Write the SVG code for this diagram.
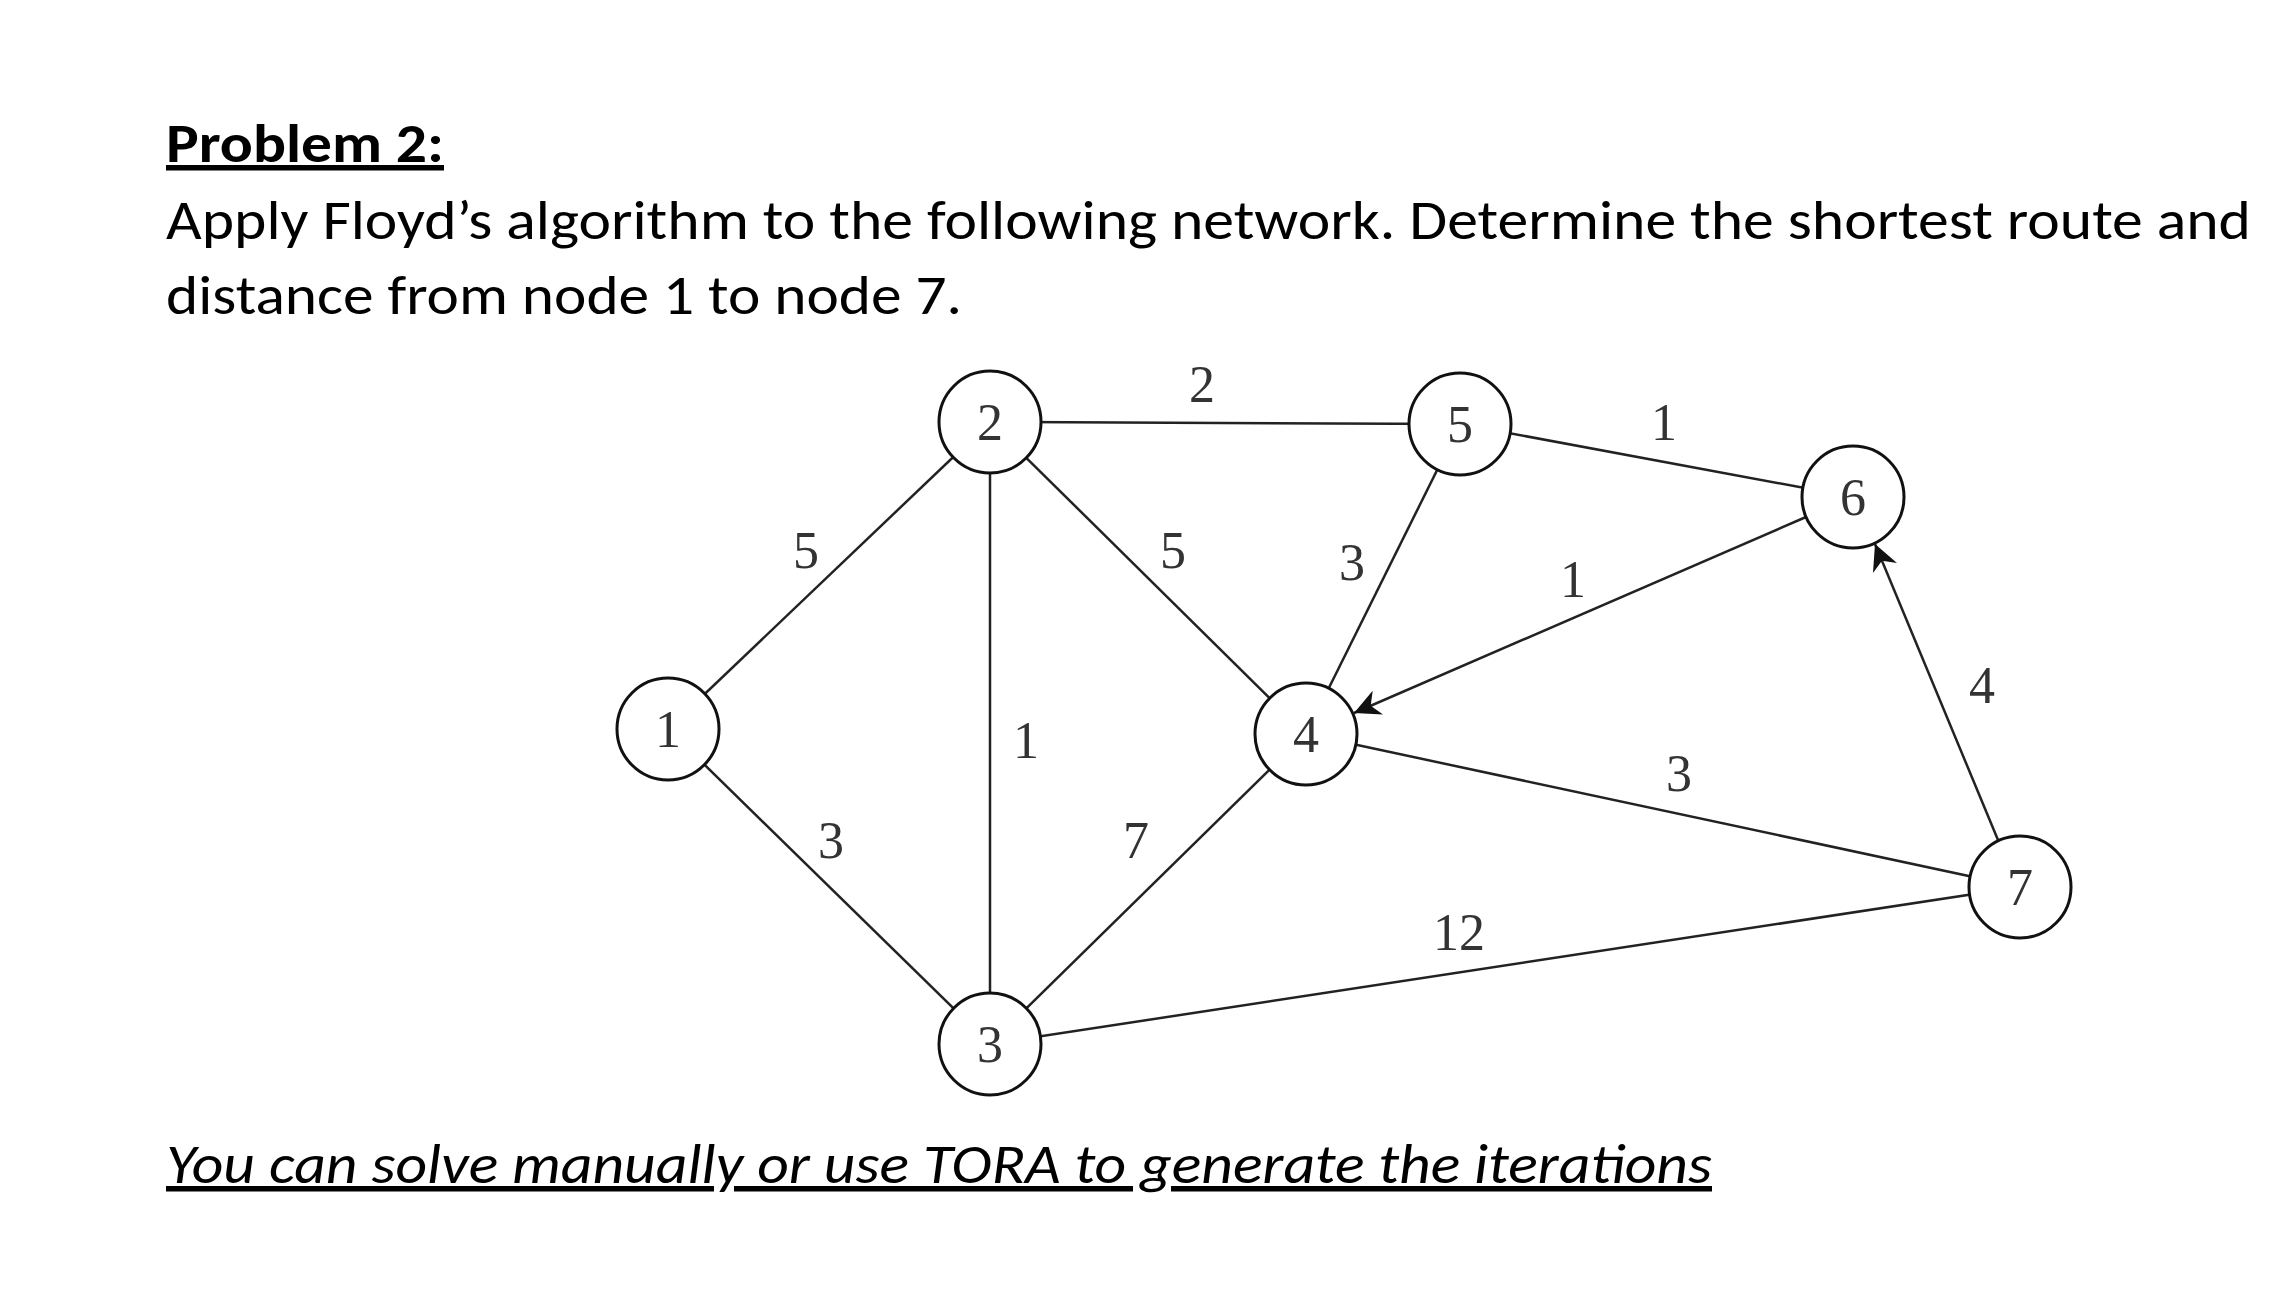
<svg xmlns="http://www.w3.org/2000/svg" width="2287" height="1297" viewBox="0 0 2287 1297">
<style>
.h{font-family:Carlito,"Liberation Sans",sans-serif;font-size:55px;fill:#000}
.n{fill:#fff;stroke:#111;stroke-width:3}
.t{font-family:"Liberation Serif",serif;font-size:52px;fill:#333;text-anchor:middle}
.e{stroke:#222;stroke-width:2.5;fill:none}
</style>
<defs><marker id="a" viewBox="0 0 10 10" refX="10" refY="5" markerWidth="12" markerHeight="12" markerUnits="userSpaceOnUse" orient="auto"><path d="M0,0L10,5L0,10L3,5z" fill="#111"/></marker>
<marker id="b" viewBox="0 0 10 10" refX="10" refY="5" markerWidth="26" markerHeight="26" markerUnits="userSpaceOnUse" orient="auto"><path d="M0,0L10,5L0,10L3,5z" fill="#111"/></marker></defs>
<rect width="2287" height="1297" fill="#fff"/>
<text class="h" x="166" y="162" font-weight="bold" text-decoration="underline" textLength="278" lengthAdjust="spacingAndGlyphs">Problem 2:</text>
<text class="h" x="166" y="239" textLength="2085" lengthAdjust="spacingAndGlyphs">Apply Floyd’s algorithm to the following network. Determine the shortest route and</text>
<text class="h" x="166" y="314" textLength="796" lengthAdjust="spacingAndGlyphs">distance from node 1 to node 7.</text>
<text class="h" x="166" y="1183" font-style="italic" text-decoration="underline" textLength="1546" lengthAdjust="spacingAndGlyphs">You can solve manually or use TORA to generate the iterations</text>
<g id="edges">
<line class="e" x1="668" y1="729" x2="990" y2="422"/>
<line class="e" x1="668" y1="729" x2="990" y2="1044"/>
<line class="e" x1="990" y1="422" x2="990" y2="1044"/>
<line class="e" x1="990" y1="422" x2="1460" y2="424"/>
<line class="e" x1="990" y1="422" x2="1306" y2="734"/>
<line class="e" x1="990" y1="1044" x2="1306" y2="734"/>
<line class="e" x1="1460" y1="424" x2="1306" y2="734"/>
<line class="e" x1="1460" y1="424" x2="1853" y2="497"/>
<line class="e" x1="1806" y1="517" x2="1354" y2="713" marker-end="url(#b)"/>
<line class="e" x1="1306" y1="734" x2="2020" y2="887"/>
<line class="e" x1="990" y1="1044" x2="2020" y2="887"/>
<line class="e" x1="1998" y1="840" x2="1875" y2="544" marker-end="url(#b)"/>
</g>
<g id="node1"><circle class="n" cx="668" cy="729" r="51"/><text class="t" x="668" y="747">1</text></g>
<g id="node2"><circle class="n" cx="990" cy="422" r="51"/><text class="t" x="990" y="440">2</text></g>
<g id="node3"><circle class="n" cx="990" cy="1044" r="51"/><text class="t" x="990" y="1062">3</text></g>
<g id="node4"><circle class="n" cx="1306" cy="734" r="51"/><text class="t" x="1306" y="752">4</text></g>
<g id="node5"><circle class="n" cx="1460" cy="424" r="51"/><text class="t" x="1460" y="442">5</text></g>
<g id="node6"><circle class="n" cx="1853" cy="497" r="51"/><text class="t" x="1853" y="515">6</text></g>
<g id="node7"><circle class="n" cx="2020" cy="887" r="51"/><text class="t" x="2020" y="905">7</text></g>
<g id="labels">
<text class="t" x="1202" y="402">2</text>
<text class="t" x="1664" y="440">1</text>
<text class="t" x="806" y="568">5</text>
<text class="t" x="1173" y="568">5</text>
<text class="t" x="1352" y="580">3</text>
<text class="t" x="1573" y="597">1</text>
<text class="t" x="1982" y="703">4</text>
<text class="t" x="1026" y="758">1</text>
<text class="t" x="831" y="858">3</text>
<text class="t" x="1136" y="858">7</text>
<text class="t" x="1679" y="791">3</text>
<text class="t" x="1459" y="950">12</text>
</g>
</svg>
